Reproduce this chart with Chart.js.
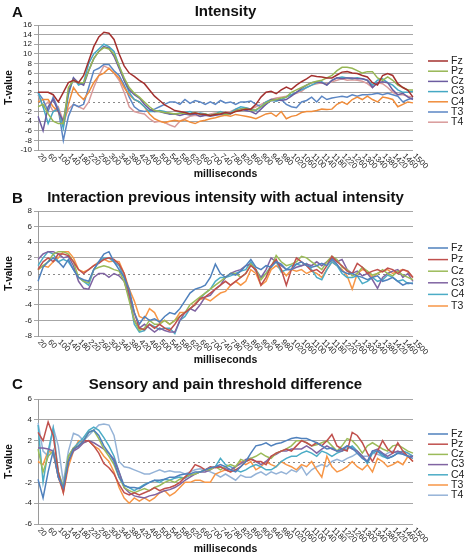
<!DOCTYPE html>
<html>
<head>
<meta charset="utf-8">
<title>T-value time courses</title>
<script src="https://cdn.jsdelivr.net/npm/chart.js@4.4.1/dist/chart.umd.min.js"></script>
<style>
    body { margin: 0; background: #ffffff; width: 474px; height: 558px; overflow: hidden;
           font-family: Arial, "Liberation Sans", sans-serif; }
    .panel { position: absolute; left: 0; width: 474px; height: 186px; }
    .panel canvas { position: absolute; left: 0; top: 0; }
    .letter { position: absolute; left: 12px; top: 3px; font-weight: bold; font-size: 15px; color: #111; }
</style>
</head>
<body>
<div class="panel" style="top:0px"><canvas id="chartA" width="474" height="186"></canvas><div class="letter">A</div></div>
<div class="panel" style="top:186px"><canvas id="chartB" width="474" height="186"></canvas><div class="letter">B</div></div>
<div class="panel" style="top:372px"><canvas id="chartC" width="474" height="186"></canvas><div class="letter">C</div></div>
<script>
// Time points (ms), one every 20 ms
const msLabels = ['20','40','60','80','100','120','140','160','180','200',
    '220','240','260','280','300','320','340','360','380','400',
    '420','440','460','480','500','520','540','560','580','600',
    '620','640','660','680','700','720','740','760','780','800',
    '820','840','860','880','900','920','940','960','980','1000',
    '1020','1040','1060','1080','1100','1120','1140','1160','1180','1200',
    '1220','1240','1260','1280','1300','1320','1340','1360','1380','1400',
    '1420','1440','1460','1480','1500'];

// ---- A: Intensity ----
const channelsA = ['Fz', 'Pz', 'Cz', 'C3', 'C4', 'T3', 'T4'];
const fzA = [2.0, 2.0, 2.0, 1.5, 0.0, 2.0, 4.0, 4.5, 4.0, 5.5,
    8.5, 11.5, 13.5, 14.5, 14.3, 13.0, 10.0, 7.5, 6.0, 5.3,
    4.5, 3.8, 2.5, 1.2, 0.3, -0.6, -1.2, -1.8, -2.0, -2.2,
    -2.5, -2.3, -2.5, -2.6, -2.8, -2.6, -2.5, -2.2, -2.4, -2.0,
    -1.8, -1.5, -1.5, -0.5, 1.0, 2.0, 2.2, 1.7, 2.5, 3.1,
    2.6, 3.5, 4.2, 4.8, 5.5, 5.3, 5.2, 5.0, 5.0, 5.6,
    6.2, 6.3, 6.0, 5.9, 5.5, 5.2, 4.0, 3.5, 5.5, 5.9,
    5.5, 3.8, 3.0, 2.4, 1.0];
const pzA = [-1.0, -0.5, -2.5, -4.0, -4.5, -4.5, 3.0, 4.5, 4.0, 4.0,
    6.5, 9.0, 10.5, 11.3, 11.0, 10.0, 7.5, 5.0, 3.0, 1.8,
    1.0, 0.0, -1.0, -1.8, -2.0, -2.2, -2.3, -2.5, -2.4, -2.3,
    -2.5, -2.2, -2.6, -2.5, -2.8, -2.5, -2.3, -2.6, -2.4, -1.8,
    -1.5, -1.3, -1.8, -1.6, -1.0, -0.2, 0.3, 0.5, 0.8, 1.0,
    2.0, 2.5, 3.0, 3.5, 4.0, 4.3, 4.5, 5.0, 5.5, 6.5,
    7.2, 7.2, 7.0, 6.5, 6.0, 6.3, 6.3, 5.0, 4.5, 5.2,
    4.5, 3.5, 3.0, 2.5, 2.5];
const czA = [-3.0, -6.0, -1.0, 0.5, -2.0, -4.0, 2.0, 5.0, 4.0, 3.5,
    6.5, 9.0, 10.5, 11.5, 11.2, 9.5, 7.0, 4.5, 2.5, 1.5,
    0.8, -0.5, -1.5, -2.0, -2.0, -2.3, -2.5, -2.5, -2.8, -2.5,
    -2.7, -2.5, -3.0, -2.8, -3.0, -2.8, -2.6, -2.5, -2.5, -1.8,
    -1.5, -1.8, -2.0, -2.5, -1.5, -0.5, 0.5, 0.5, 0.3, 0.5,
    1.2, 2.0, 2.8, 3.5, 4.0, 4.2, 4.0, 3.5, 4.5, 5.0,
    4.8, 5.0, 5.0, 4.8, 4.8, 4.5, 3.0, 4.0, 4.2, 4.0,
    2.5, 1.5, 1.8, 1.0, 0.5];
const c3A = [2.0, -1.0, -4.5, -2.0, -1.5, -5.5, 1.5, 5.0, 3.5, 4.0,
    8.0, 10.0, 11.0, 12.0, 11.5, 10.5, 7.5, 4.5, 2.0, 0.5,
    0.0, -1.0, -2.0, -2.0, -1.8, -2.0, -2.5, -2.5, -2.3, -2.2,
    -2.0, -2.5, -2.3, -2.5, -2.8, -2.5, -2.0, -2.5, -2.2, -1.5,
    -1.0, -1.2, -1.5, -1.8, -1.0, 0.0, 0.5, 0.2, 0.5, 1.0,
    1.5, 2.0, 2.5, 3.0, 3.5, 4.0, 4.2, 3.5, 4.5, 5.0,
    5.2, 5.0, 4.8, 5.0, 4.8, 4.5, 3.5, 4.5, 4.8, 4.0,
    3.5, 2.5, 2.0, 2.0, 2.2];
const c4A = [0.0, 0.5, 0.5, -1.0, -2.0, -5.0, -0.5, 3.0, 1.5, 0.5,
    2.0, 4.0, 5.5, 6.0, 7.0, 6.0, 5.0, 3.0, 1.5, 0.5,
    0.0, -1.0, -2.5, -3.5, -4.0, -4.3, -4.0, -3.8, -4.0, -3.7,
    -4.2, -4.5, -4.0, -3.8, -3.5, -3.3, -3.0, -2.8, -3.0, -2.6,
    -2.8, -3.0, -3.2, -3.5, -3.0, -2.5, -2.3, -3.0, -2.0, -3.5,
    -3.0, -2.8, -2.2, -2.0, -2.0, -1.8, -1.5, -1.6, -1.5, -0.5,
    0.0, -0.5, 0.5, 1.0, 0.5, 1.2, 0.5, 0.0, 1.0, 0.8,
    0.5, -1.0, -0.5, 0.0, -0.2];
const t3A = [2.0, 0.5, -2.0, 1.0, -1.5, -8.0, -3.0, -0.5, -1.0, -0.5,
    3.0, 6.5, 7.0, 7.8, 7.8, 6.5, 5.5, 3.5, 1.0, -1.0,
    -1.8, -2.0, -1.8, -1.5, -1.0, -0.5, 0.0, 0.0, -0.5, 0.5,
    -0.3, 0.3, 0.0, -0.5, 0.0, -0.5, 0.3, -0.2, 0.0, -0.5,
    0.0, 0.0, 0.2, -0.5, -1.0, -0.5, 0.3, 0.2, 0.5, -0.5,
    -1.0, -1.2, 0.0, 0.3, 1.0, 0.0, 1.2, 0.5, 0.8, 1.0,
    1.2, 1.0, 1.5, 1.2, 1.5, 1.5, 1.6, 1.8, 1.5, 1.8,
    1.5, 1.2, 0.0, 0.5, 0.8];
const t4A = [1.5, -1.0, 0.0, -2.0, -1.0, -4.0, -1.5, -0.5, -1.0, -1.5,
    0.0, 3.0, 5.5, 7.5, 7.0, 6.0, 4.5, 2.0, -1.0, -2.0,
    -2.3, -2.5, -3.5, -4.2, -4.0, -4.3, -4.8, -5.2, -4.0, -3.5,
    -3.0, -2.8, -3.0, -2.8, -2.5, -2.3, -2.5, -2.2, -2.0, -1.5,
    -1.5, -1.2, -1.5, -1.0, -0.5, 0.0, 0.5, 0.8, 1.0, 1.2,
    1.5, 1.8, 2.2, 3.0, 3.5, 3.8, 4.0, 3.8, 4.2, 4.5,
    4.8, 4.5, 4.6, 4.5, 4.3, 3.8, 3.0, 4.0, 3.8, 3.0,
    2.0, 1.5, 1.5, 1.2, 1.0];
const colorsA = ['#A3302E', '#96B653', '#6C5CA0', '#45A8C4', '#F08C3A', '#5B86C4', '#D99A9A'];

// ---- B: Interaction previous intensity with actual intensity ----
const channelsB = ['Fz', 'Pz', 'Cz', 'C3', 'C4', 'T3'];
const fzB = [-1.0, 0.8, 1.5, 2.0, 1.5, 0.8, 1.8, 0.5, -0.5, -0.8,
    -1.0, 0.5, 1.5, 2.5, 2.8, 1.5, 0.5, -0.5, -2.0, -5.0,
    -6.5, -5.5, -6.0, -5.8, -6.2, -5.5, -5.0, -5.2, -4.5, -3.5,
    -2.5, -2.0, -1.8, -1.5, -0.5, 1.2, 0.0, -0.5, 0.0, -0.2,
    0.3, 1.0, 1.8, 0.8, 0.5, 1.0, 0.8, 1.5, 1.2, 0.5,
    0.5, 1.2, 1.5, 1.0, 0.8, 1.0, 1.3, 1.0, 1.8, 1.2,
    0.3, 0.0, 0.0, -0.3, -0.5, -0.8, -0.5, -0.3, -1.0, -0.8,
    -0.5, -1.0, -1.5, -1.2, -1.3];
const pzB = [0.5, 1.5, 2.0, 1.5, 2.5, 2.5, 2.3, 1.5, 0.5, 0.0,
    0.5, 1.0, 1.3, 1.8, 2.0, 1.8, 1.2, 0.0, -2.5, -5.0,
    -7.0, -7.2, -6.5, -7.0, -6.5, -7.0, -7.3, -6.5, -5.5, -5.0,
    -4.5, -4.0, -3.2, -3.0, -2.5, -2.0, -1.5, -1.0, -1.5, -1.0,
    -0.5, 0.0, 1.0, 0.5, -1.5, -0.5, 1.0, 1.8, 0.5, -1.5,
    0.5, 2.0, 1.5, 1.0, 0.3, 0.5, 0.0, 1.0, 2.2, 1.5,
    1.0, 0.3, 0.0, 1.3, 0.8, 0.0, 0.3, 0.5, 0.2, 0.7,
    0.5, 0.0, 0.5, 0.3, -0.5];
const czB = [0.5, 1.0, 1.5, 2.5, 2.8, 2.8, 2.5, 1.5, -0.5, -1.0,
    -1.2, 0.5, 0.8, 1.0, 0.8, 0.5, 0.3, -1.0, -3.5, -6.0,
    -7.3, -7.0, -6.0, -6.5, -6.5, -6.0, -6.5, -6.0, -5.5, -5.0,
    -4.0, -3.5, -3.0, -2.5, -2.0, -1.5, -1.0, -0.5, 0.0, 0.0,
    -0.5, 0.0, 1.2, 0.5, -0.8, 0.0, 0.8, 2.3, 1.5, 1.0,
    1.2, 1.5, 2.2, 2.0, 1.5, 1.0, 0.5, 1.5, 2.2, 1.8,
    0.8, 0.5, -0.3, 0.0, 0.8, 0.3, -0.2, 0.0, 0.5, 0.0,
    -0.3, 0.3, -0.2, -0.5, -0.8];
const c3B = [1.8, 2.5, 2.8, 2.8, 2.5, 2.0, 2.2, 1.0, -1.0, -1.9,
    -2.0, -0.5, 0.0, 0.0, -0.5, 0.0, -0.3, -1.0, -3.0, -6.0,
    -7.0, -6.5, -7.0, -7.5, -7.0, -7.3, -7.5, -7.5, -6.0, -5.0,
    -4.5, -4.8, -4.0, -3.0, -2.8, -2.0, -1.5, -0.5, 0.0, 0.3,
    0.5, 1.0, 1.2, 0.3, -0.5, 0.5, 2.0, 1.5, 1.0, 0.5,
    0.5, 0.8, 1.0, 1.2, 1.0, 1.5, 1.0, 1.5, 2.0, 1.5,
    1.8, 0.5, 0.0, 0.3, -0.3, 0.0, -0.8, -1.9, -0.5, 0.0,
    0.3, 0.5, -0.5, 0.0, -1.0];
const c4B = [1.0, 2.0, 2.8, 2.5, 1.5, 1.8, 1.5, 0.5, -0.5, -1.0,
    -1.5, 0.5, 1.5, 2.0, 2.0, 1.5, 1.0, -0.5, -3.0, -6.5,
    -7.5, -7.3, -6.5, -6.8, -7.2, -7.0, -7.0, -7.7, -6.0, -5.5,
    -4.5, -4.0, -3.2, -2.5, -2.0, -1.0, -0.5, -0.5, -0.3, 0.0,
    0.3, 0.5, 1.5, 0.5, -0.5, 0.0, 1.0, 1.5, 0.2, 0.5,
    1.0, 1.2, 1.0, 1.3, 0.5, -0.5, -0.8, 0.5, 1.5, 1.0,
    0.0, -0.5, -0.5, -0.3, -1.3, -1.0, -0.5, -1.0, -0.8, -0.2,
    -0.5, -1.0, -0.8, -1.3, -1.2];
const t3B = [0.5, 1.0, 0.8, 1.5, 2.0, 2.8, 2.8, 2.0, 0.5, 0.2,
    0.5, 1.0, 1.5, 1.8, 1.5, 1.6, 1.5, 0.0, -2.0, -3.5,
    -5.5, -5.8, -4.5, -5.0, -6.3, -6.0, -6.5, -6.0, -5.0, -5.0,
    -4.5, -3.8, -3.3, -3.2, -3.5, -3.0, -2.5, -2.3, -1.5, -1.0,
    -1.5, -1.0, 0.5, 0.0, -1.5, -1.0, 0.5, 1.0, 0.5, -0.3,
    0.5, 0.3, 0.5, 0.0, 0.3, 0.0, -0.5, 0.5, 1.5, 1.0,
    0.5, -0.3, -2.0, 0.0, 0.5, 0.3, -0.5, 0.0, 0.3, 0.5,
    0.0, 0.3, 0.5, 0.2, -0.5];
const colorsB = ['#4F81BD', '#C0504D', '#9BBB59', '#8064A2', '#4BACC6', '#F79646'];

// ---- C: Sensory and pain threshold difference ----
const channelsC = ['Fz', 'Pz', 'Cz', 'C3', 'C4', 'T3', 'T4'];
const fzC = [-1.7, -3.5, -1.0, 1.0, -1.5, -2.5, 0.0, 1.2, 1.5, 2.0,
    2.8, 3.0, 2.5, 1.5, 0.8, 0.0, -1.5, -2.3, -2.5, -2.5,
    -2.6, -2.3, -2.0, -1.8, -1.8, -1.7, -1.5, -1.5, -1.3, -1.2,
    -1.2, -1.0, -1.0, -0.8, -0.6, -0.5, -0.3, -0.5, -0.8, -1.0,
    -0.5, 0.0, 0.8, 1.5, 1.6, 1.8, 1.5, 1.7, 1.8, 2.0,
    2.2, 2.3, 2.2, 2.2, 2.0, 1.8, 1.5, 1.2, 1.3, 1.0,
    1.2, 1.5, 1.3, 0.8, 0.3, 0.0, 1.0, 1.0, 0.7, 0.3,
    0.5, 0.8, 0.7, 0.5, 0.3];
const pzC = [2.8, 2.0, 3.8, 2.5, -1.0, -3.0, 0.0, 1.2, 1.5, 2.0,
    2.0, 1.5, 0.8, -0.2, -0.6, -1.2, -2.2, -3.0, -3.2, -3.0,
    -3.2, -3.0, -2.8, -2.5, -2.8, -2.6, -2.5, -2.3, -2.0, -1.5,
    -1.0, -0.3, -0.5, -0.8, -0.5, -0.6, -0.5, -0.8, -1.0, -0.8,
    -0.5, 0.0, 0.2, 0.0, 0.0, -0.3, 0.5, 0.8, 1.0, 1.2,
    1.0, 1.5, 2.0, 1.8, 1.5, 1.8, 1.5, 2.0, 2.6, 1.5,
    1.2, 1.0, 2.8, 2.5, 1.8, 0.8, 0.0, 1.0, 2.0, 1.2,
    0.8, 1.8, 1.0, 0.5, 0.0];
const czC = [1.2, -1.0, 0.5, 1.0, -1.0, -2.5, 0.5, 1.3, 1.5, 2.0,
    2.8, 3.0, 2.2, 1.2, 0.5, -0.3, -1.5, -2.5, -2.8, -3.0,
    -2.8, -2.6, -2.8, -2.5, -2.3, -2.0, -1.8, -2.0, -1.7, -1.5,
    -1.3, -1.2, -1.0, -0.8, -0.8, -0.5, -0.8, -0.5, -0.3, -0.5,
    0.2, 0.0, 0.3, 0.5, 0.8, 0.5, 0.3, 0.8, 1.0, 1.2,
    1.5, 2.0, 2.0, 1.8, 1.5, 1.6, 1.8, 2.0, 1.5, 1.0,
    1.5, 2.2, 2.0, 1.5, 0.8, 1.5, 1.8, 1.5, 1.2, 1.0,
    1.5, 1.6, 1.3, 1.0, 0.8];
const c3C = [1.3, 1.3, 1.2, 1.0, -1.5, -2.8, 0.0, 1.0, 1.3, 1.8,
    2.0, 1.8, 1.5, 1.2, 0.8, 0.2, -1.0, -2.5, -3.0, -3.3,
    -3.4, -3.5, -3.3, -3.2, -3.0, -2.8, -2.7, -2.5, -2.2, -1.8,
    -1.5, -1.2, -1.0, -1.0, -0.8, -0.5, -0.5, -0.7, -0.8, -0.5,
    -0.2, 0.2, 0.3, 0.0, -0.3, 0.0, 0.5, 0.7, 1.0, 1.0,
    1.2, 1.2, 1.2, 1.5, 1.2, 0.8, 1.2, 1.5, 1.2, 1.0,
    1.0, 1.5, 1.2, 1.0, 0.5, 0.0, 1.0, 1.2, 0.8, 0.5,
    0.8, 1.0, 0.8, 0.5, 0.5];
const c4C = [3.5, -2.0, 1.0, 3.2, -1.0, -2.5, 0.5, 1.3, 1.8, 2.3,
    3.0, 3.3, 3.0, 2.3, 1.5, 0.5, -1.0, -2.3, -2.5, -2.8,
    -2.5, -2.2, -2.0, -1.8, -2.0, -1.7, -1.8, -1.6, -1.5, -1.6,
    -1.3, -1.2, -1.0, -0.8, -0.7, -0.5, 0.3, -0.3, -0.5, -0.8,
    -1.0, -0.8, -0.5, -0.3, -0.5, -0.8, -0.8, -0.5, 0.0, 0.3,
    0.5, 0.5, 0.8, 1.0, 0.8, 0.5, 1.0, 0.8, 0.5, 0.8,
    1.0, 1.2, 1.5, 1.0, 0.5, -0.2, 0.8, 1.0, 0.5, 0.3,
    0.5, 0.8, 1.0, 0.8, 0.5];
const t3C = [0.0, -0.3, 1.0, 0.8, -1.5, -3.0, -0.5, 1.0, 2.0, 1.8,
    2.0, 1.5, 1.2, 0.5, 0.0, -1.0, -2.5, -3.5, -4.0, -3.5,
    -3.8, -3.5, -3.8, -3.5, -3.0, -2.8, -3.3, -3.0, -2.5, -2.0,
    -2.0, -1.8, -1.8, -2.0, -2.0, -1.2, -1.0, -0.8, -1.0, -0.5,
    0.0, -0.3, 0.0, -0.8, -0.5, 0.0, -0.3, -0.5, 0.0, -0.3,
    -0.5, -0.8, -0.3, -0.5, 0.0, -0.8, -1.5, 0.5, -0.5, -1.0,
    -0.8, -0.5, 0.0, -0.5, -0.8, -0.3, -1.0, 0.3, 0.0, -0.5,
    -0.3, 0.0, -0.3, 0.5, 0.0];
const t4C = [3.7, 1.0, 0.5, 3.3, 1.5, -2.0, 1.0, 2.7, 2.5, 2.0,
    2.5, 3.0, 3.5, 3.6, 3.5, 2.5, 0.0, -0.5, -0.6, -0.8,
    -1.0, -1.2, -1.2, -1.0, -0.8, -1.0, -0.9, -1.0, -1.0, -1.2,
    -1.0, -0.8, -0.7, -0.8, -1.0, -1.2, -1.5, -1.2, -1.5, -1.8,
    -1.3, -1.5, -1.5, -1.2, -1.0, -1.3, -1.0, -1.2, -1.0, -1.2,
    -0.8, -1.0, -0.5, -1.3, -0.8, -0.5, -0.3, -0.5, 0.0, 0.2,
    0.0, 0.3, 0.5, 0.8, 0.5, 0.5, 0.8, 0.7, 0.5, 0.8,
    1.0, 0.8, 1.0, 0.8, 0.5];
const colorsC = ['#4F81BD', '#C0504D', '#9BBB59', '#8064A2', '#4BACC6', '#F79646', '#95B3D7'];

const FONT = 'Arial, "Liberation Sans", sans-serif';

// dotted category axis at T = 0
const zeroAxis = {
    id: 'zeroAxis',
    beforeDatasetsDraw(chart) {
        const { ctx, chartArea, scales } = chart;
        const y = Math.round(scales.y.getPixelForValue(0)) + 0.5;
        ctx.save();
        ctx.strokeStyle = '#8a8a8a';
        ctx.lineWidth = 1;
        ctx.setLineDash([2, 3]);
        ctx.beginPath();
        ctx.moveTo(chartArea.left, y);
        ctx.lineTo(chartArea.right, y);
        ctx.stroke();
        ctx.restore();
    }
};

// every other ms label, slanted downwards like the Excel original
const slantedLabels = {
    id: 'slantedLabels',
    afterDraw(chart) {
        const { ctx, chartArea, scales } = chart;
        ctx.save();
        ctx.font = '8px ' + FONT;
        ctx.fillStyle = '#222';
        ctx.textAlign = 'left';
        ctx.textBaseline = 'middle';
        chart.data.labels.forEach((label, i) => {
            if (i % 2) return;
            const x = scales.x.getPixelForValue(i);
            ctx.save();
            ctx.translate(x + 1, chartArea.bottom + 5);
            ctx.rotate(Math.PI / 4);
            ctx.fillText(label, 0, 0);
            ctx.restore();
        });
        ctx.restore();
    }
};

// legend on the right, short line + channel name
const sideLegend = {
    id: 'sideLegend',
    afterDraw(chart, args, opts) {
        const { ctx, chartArea } = chart;
        const x0 = chartArea.right + 15;
        ctx.save();
        ctx.font = '10.5px ' + FONT;
        ctx.textBaseline = 'middle';
        ctx.textAlign = 'left';
        chart.data.datasets.forEach((ds, i) => {
            const y = opts.top + i * opts.gap;
            ctx.strokeStyle = ds.borderColor;
            ctx.lineWidth = 1.5;
            ctx.beginPath();
            ctx.moveTo(x0, y);
            ctx.lineTo(x0 + 20, y);
            ctx.stroke();
            ctx.fillStyle = '#222';
            ctx.fillText(ds.label, x0 + 23, y);
        });
        ctx.restore();
    }
};

function makeChart(id, cfg) {
    const datasets = cfg.names.map((name, i) => ({
        label: name,
        data: cfg.series[i],
        borderColor: cfg.colors[i],
        backgroundColor: cfg.colors[i],
        borderWidth: 1.5,
        pointRadius: 0,
        tension: 0,
        fill: false
    }));

    return new Chart(document.getElementById(id), {
        type: 'line',
        data: { labels: msLabels, datasets: datasets },
        plugins: [zeroAxis, slantedLabels, sideLegend],
        options: {
            responsive: false,
            animation: false,
            devicePixelRatio: 1,
            layout: { padding: { left: 0, right: 61, top: 0, bottom: 0 } },
            plugins: {
                legend: { display: false },
                tooltip: { enabled: false },
                title: {
                    display: true,
                    text: cfg.title,
                    fullSize: false,
                    color: '#111',
                    font: { family: FONT, size: 15, weight: 'bold' },
                    padding: { top: cfg.titlePad[0], bottom: cfg.titlePad[1] }
                },
                sideLegend: { top: cfg.legendTop, gap: cfg.legendGap }
            },
            scales: {
                x: {
                    type: 'category',
                    offset: false,
                    grid: { display: false },
                    border: { display: false },
                    ticks: { display: false },
                    title: {
                        display: true,
                        text: 'milliseconds',
                        color: '#111',
                        font: { family: FONT, size: 10.5, weight: 'bold' },
                        padding: { top: 0, bottom: cfg.msPad }
                    },
                    afterFit: (s) => { s.height = cfg.xHeight; }
                },
                y: {
                    min: cfg.yRange[0],
                    max: cfg.yRange[1],
                    border: { display: true, color: '#9a9a9a', width: 1 },
                    grid: {
                        color: (c) => (c.tick && c.tick.value === 0) ? 'rgba(0,0,0,0)' : '#a6a6a6',
                        lineWidth: 1,
                        drawTicks: true,
                        tickLength: 4
                    },
                    ticks: {
                        stepSize: 2,
                        autoSkip: false,
                        padding: 2,
                        color: '#222',
                        font: { family: FONT, size: 8 }
                    },
                    title: {
                        display: true,
                        text: 'T-value',
                        color: '#111',
                        font: { family: FONT, size: 10, weight: 'bold' },
                        padding: { top: 3, bottom: 0 }
                    },
                    afterFit: (s) => { s.width = 38; }
                }
            }
        }
    });
}

document.addEventListener('DOMContentLoaded', () => {
    makeChart('chartA', {
        title: 'Intensity',
        names: channelsA,
        series: [fzA, pzA, czA, c3A, c4A, t3A, t4A],
        colors: colorsA,
        yRange: [-10, 16],
        titlePad: [3, 4],
        xHeight: 36,
        msPad: 6,
        legendTop: 61,
        legendGap: 10.2
    });
    makeChart('chartB', {
        title: 'Interaction previous intensity with actual intensity',
        names: channelsB,
        series: [fzB, pzB, czB, c3B, c4B, t3B],
        colors: colorsB,
        yRange: [-8, 8],
        titlePad: [3, 4],
        xHeight: 36,
        msPad: 6,
        legendTop: 62,
        legendGap: 11.6
    });
    makeChart('chartC', {
        title: 'Sensory and pain threshold difference',
        names: channelsC,
        series: [fzC, pzC, czC, c3C, c4C, t3C, t4C],
        colors: colorsC,
        yRange: [-6, 6],
        titlePad: [4, 5],
        xHeight: 34,
        msPad: 3,
        legendTop: 62,
        legendGap: 10.2
    });
});
</script>
</body>
</html>
